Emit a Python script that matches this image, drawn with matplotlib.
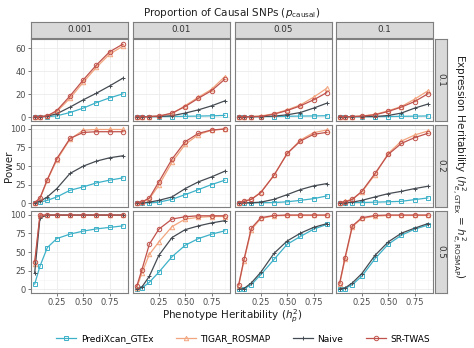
import matplotlib
matplotlib.use("Agg")
import matplotlib.pyplot as plt
import numpy as np

# phenotype heritability grid (x) shared by every panel
h2p = [0.04, 0.09, 0.16, 0.25, 0.375, 0.5, 0.625, 0.75, 0.875]

p_causal = ["0.001", "0.01", "0.05", "0.1"]
h2e = ["0.1", "0.2", "0.5"]

methods = ["PrediXcan_GTEx", "TIGAR_ROSMAP", "Naive", "SR-TWAS"]
colors = {"PrediXcan_GTEx": "#3DB1C8", "TIGAR_ROSMAP": "#F2A57E",
          "Naive": "#454B52", "SR-TWAS": "#C0524C"}
markers = {"PrediXcan_GTEx": "s", "TIGAR_ROSMAP": "^", "Naive": "+", "SR-TWAS": "o"}

# power (%) per method, indexed [row h2e][col p_causal]
predixcan = [
    [[0.2, 0.3, 0.3, 1.1, 4.0, 7.8, 12.6, 16.7, 20.2],
     [0.2, 0.2, 0.3, 0.4, 0.5, 0.7, 0.9, 1.1, 1.5],
     [0.2, 0.2, 0.3, 0.4, 0.5, 0.7, 0.9, 1.0, 1.2],
     [0.2, 0.2, 0.3, 0.3, 0.4, 0.5, 0.7, 0.8, 1.0]],
    [[0.5, 1.5, 3.9, 8.5, 17.4, 22.0, 27.3, 31.0, 34.0],
     [0.5, 0.5, 0.5, 1.5, 5.3, 11.6, 18.3, 25.1, 30.9],
     [0.5, 0.5, 0.5, 0.8, 1.0, 2.0, 3.9, 6.2, 9.8],
     [0.5, 0.8, 1.0, 1.0, 1.5, 2.0, 2.6, 4.9, 7.1]],
    [[7.0, 31.0, 56.0, 68.0, 74.0, 78.0, 81.0, 83.0, 85.0],
     [0.0, 1.7, 9.4, 22.9, 43.7, 59.0, 68.0, 73.9, 78.4],
     [0.0, 0.5, 6.2, 19.7, 40.0, 60.4, 70.8, 80.6, 87.0],
     [0.0, 1.0, 6.2, 17.5, 41.0, 60.4, 72.5, 80.6, 86.0]],
]
tigar = [
    [[0.2, 0.4, 1.0, 4.8, 16.4, 30.3, 43.3, 54.8, 61.7],
     [0.3, 0.3, 0.5, 1.0, 2.9, 10.0, 17.3, 24.2, 35.2],
     [0.3, 0.3, 0.5, 1.0, 2.9, 6.3, 10.6, 17.3, 25.1],
     [0.3, 0.3, 0.5, 1.0, 2.3, 5.5, 9.2, 15.6, 22.8]],
    [[0.8, 6.0, 31.0, 58.0, 86.0, 98.0, 99.0, 99.0, 99.0],
     [0.5, 1.5, 6.0, 24.0, 55.0, 79.0, 92.0, 98.0, 99.6],
     [0.5, 3.0, 5.3, 15.0, 37.6, 66.8, 84.8, 94.7, 98.3],
     [0.8, 2.6, 5.3, 15.0, 38.5, 66.8, 83.4, 91.5, 96.9]],
    [[34.0, 99.0, 99.5, 99.5, 99.5, 99.5, 99.5, 99.5, 99.5],
     [1.7, 22.0, 46.8, 63.5, 84.0, 94.2, 96.5, 97.6, 97.6],
     [5.0, 38.0, 80.0, 95.0, 98.5, 99.0, 99.0, 99.0, 99.0],
     [7.0, 40.0, 84.0, 95.0, 98.0, 99.0, 99.0, 99.0, 99.0]],
]
naive = [
    [[0.2, 0.3, 0.8, 2.9, 8.7, 15.0, 20.8, 27.1, 33.8],
     [0.2, 0.3, 0.5, 0.5, 1.2, 3.5, 6.3, 9.8, 14.1],
     [0.2, 0.3, 0.4, 0.5, 0.8, 2.0, 4.0, 7.8, 12.1],
     [0.2, 0.3, 0.4, 0.5, 0.5, 1.4, 3.5, 7.8, 11.3]],
    [[0.8, 2.6, 8.5, 19.7, 40.0, 49.8, 56.5, 61.0, 63.7],
     [0.5, 0.5, 1.5, 3.9, 8.5, 19.7, 28.7, 35.4, 43.0],
     [0.5, 0.5, 0.8, 1.5, 5.3, 11.6, 18.3, 23.3, 26.4],
     [0.5, 0.8, 1.5, 3.9, 8.5, 12.9, 16.0, 19.7, 22.8]],
    [[22.0, 96.0, 99.5, 99.5, 99.5, 99.5, 99.5, 99.5, 99.5],
     [0.0, 3.1, 17.5, 45.5, 69.4, 80.0, 85.0, 89.0, 92.0],
     [0.0, 1.0, 8.5, 22.9, 48.2, 64.8, 75.2, 83.0, 88.0],
     [0.5, 1.7, 8.5, 21.1, 45.5, 63.5, 75.2, 82.0, 88.0]],
]
srtwas = [
    [[0.2, 0.3, 1.1, 5.7, 18.4, 32.3, 45.3, 56.8, 63.5],
     [0.3, 0.3, 0.5, 0.9, 3.5, 9.2, 16.4, 23.0, 32.9],
     [0.3, 0.3, 0.5, 0.5, 2.6, 5.7, 9.8, 15.0, 21.3],
     [0.3, 0.3, 0.5, 0.8, 2.0, 4.9, 8.7, 13.5, 20.2]],
    [[0.8, 7.1, 31.8, 60.0, 87.0, 95.0, 96.0, 96.0, 96.0],
     [0.5, 1.7, 7.1, 28.7, 59.2, 82.6, 93.8, 98.3, 99.6],
     [0.8, 2.6, 5.3, 14.3, 37.6, 66.8, 83.4, 92.5, 95.1],
     [0.8, 1.5, 5.3, 16.0, 40.0, 65.5, 80.3, 88.0, 93.8]],
    [[37.0, 99.6, 99.6, 99.6, 99.6, 99.6, 99.6, 99.6, 99.6],
     [3.9, 26.5, 60.4, 80.6, 94.2, 97.3, 98.6, 98.6, 98.6],
     [6.2, 40.0, 82.0, 96.0, 99.0, 99.6, 99.6, 99.6, 99.6],
     [8.5, 42.3, 85.0, 96.0, 99.0, 99.6, 99.6, 99.6, 99.6]],
]
series = {"PrediXcan_GTEx": predixcan, "TIGAR_ROSMAP": tigar,
          "Naive": naive, "SR-TWAS": srtwas}

row_ylim = [(-3.4, 68.0), (-5, 105), (-5, 105)]
row_yticks = [[0, 20, 40, 60], [0, 25, 50, 75, 100], [0, 25, 50, 75, 100]]

W, H = 474, 348
fig = plt.figure(figsize=(W / 100, H / 100), dpi=100)

col_left = [31, 133, 235, 336]
pw = 97
row_top = [39, 125, 211]
ph = 82
strip_h = 16
strip_w = 12

def fig_rect(x, y, w, h):
    return [x / W, 1 - (y + h) / H, w / W, h / H]

txt_col = "#333333"
border = "#7F7F7F"

for r in range(3):
    for c in range(4):
        ax = fig.add_axes(fig_rect(col_left[c], row_top[r], pw, ph))
        ax.set_xlim(0.005, 0.925)
        ax.set_ylim(*row_ylim[r])
        ax.set_xticks([0.25, 0.5, 0.75])
        ax.set_xticks([0.125, 0.375, 0.625, 0.875], minor=True)
        yt = row_yticks[r]
        ax.set_yticks(yt)
        ax.set_yticks([(a + b) / 2 for a, b in zip(yt[:-1], yt[1:])], minor=True)
        ax.grid(which="major", color="#EBEBEB", lw=0.6)
        ax.grid(which="minor", color="#F4F4F4", lw=0.4)
        ax.set_axisbelow(True)
        for s in ax.spines.values():
            s.set_color(border)
            s.set_linewidth(0.8)
        ax.tick_params(which="major", length=2, width=0.5, color="#444444",
                       labelsize=6, labelcolor="#4D4D4D", pad=1.5)
        ax.tick_params(which="minor", length=0)
        if c != 0:
            ax.tick_params(axis="y", labelleft=False, length=0)
        if r != 2:
            ax.tick_params(axis="x", labelbottom=False, length=0)
        else:
            ax.set_xticklabels(["0.25", "0.50", "0.75"])

        for m in methods:
            ax.plot(h2p, series[m][r][c], color=colors[m], lw=0.9,
                    marker=markers[m], ms=3.2, mfc="none", mew=0.7,
                    label=m, zorder=3 if m != "SR-TWAS" else 4)

        # column strips along the top row
        if r == 0:
            sax = fig.add_axes(fig_rect(col_left[c], 22, pw, strip_h))
            sax.set_facecolor("#D9D9D9")
            sax.set_xticks([])
            sax.set_yticks([])
            for s in sax.spines.values():
                s.set_color(border)
                s.set_linewidth(0.8)
            sax.text(0.5, 0.5, p_causal[c], ha="center", va="center",
                     fontsize=6.3, color=txt_col, transform=sax.transAxes)

    # row strips on the right side
    rax = fig.add_axes(fig_rect(col_left[-1] + pw + 2, row_top[r], strip_w, ph))
    rax.set_facecolor("#D9D9D9")
    rax.set_xticks([])
    rax.set_yticks([])
    for s in rax.spines.values():
        s.set_color(border)
        s.set_linewidth(0.8)
    rax.text(0.5, 0.5, h2e[r], ha="center", va="center", rotation=-90,
             fontsize=6.3, color=txt_col, transform=rax.transAxes)

fig.text(232 / W, 1 - 13 / H, r"Proportion of Causal SNPs ($p_{\mathrm{causal}}$)",
         ha="center", va="center", fontsize=7.5, color="#222222")
fig.text(232 / W, 1 - 308 / H, r"Phenotype Heritability ($h_p^2$)",
         ha="center", va="top", fontsize=7.5, color="#222222")
fig.text(9 / W, 1 - 166 / H, "Power", ha="center", va="center",
         rotation=90, fontsize=7.5, color="#222222")
fig.text(458 / W, 1 - 166 / H,
         r"Expression Heritability ($h^2_{e,\mathrm{GTEx}}$ = $h^2_{e,\mathrm{ROSMAP}}$)",
         ha="center", va="center", rotation=-90, fontsize=7.5, color="#222222")

handles = [plt.Line2D([], [], color=colors[m], lw=0.9, marker=markers[m], ms=3.2,
                      mfc="none", mew=0.7) for m in methods]
fig.legend(handles, methods, loc="center", bbox_to_anchor=(243 / W, 1 - 339 / H),
           ncol=4, frameon=False, fontsize=6.5, handlelength=2.2,
           columnspacing=2.5, handletextpad=0.5)

fig.savefig("out.png", dpi=100)
